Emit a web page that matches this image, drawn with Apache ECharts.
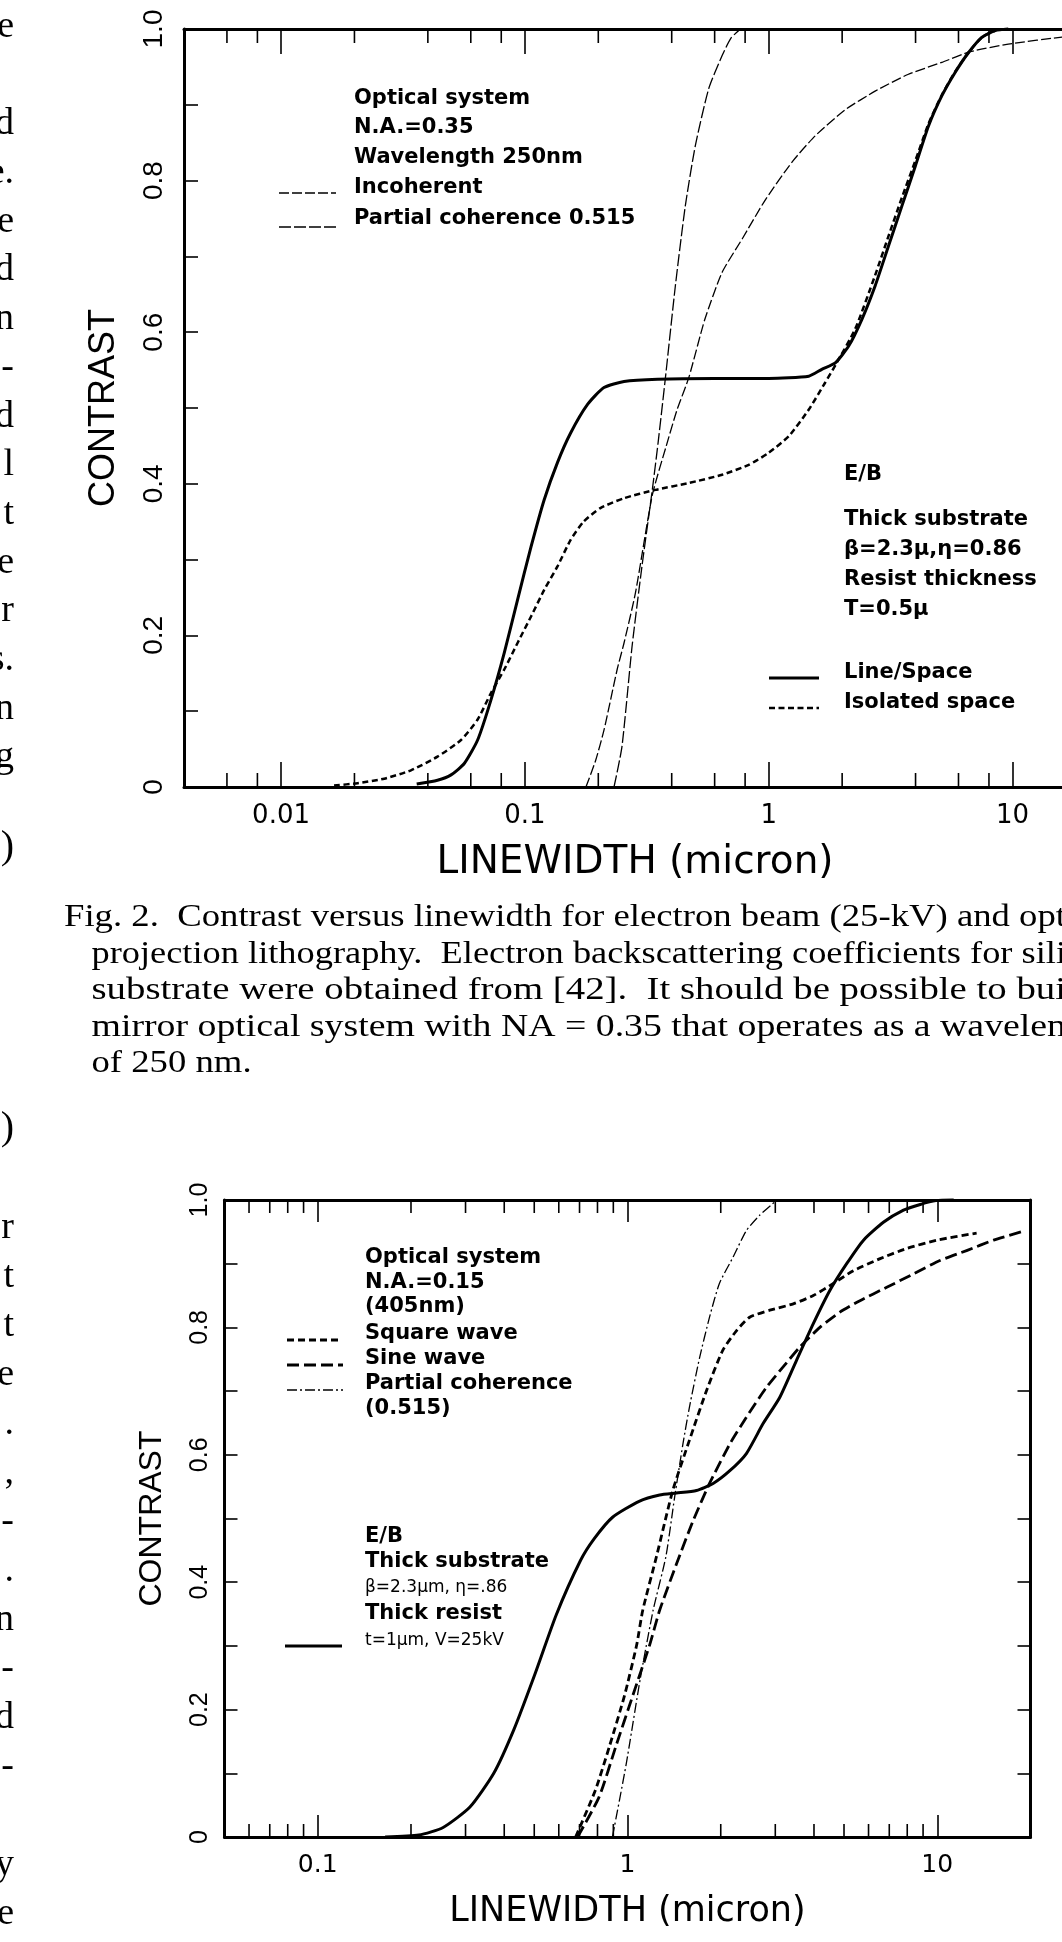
<!DOCTYPE html>
<html>
<head>
<meta charset="utf-8">
<script src="https://cdn.jsdelivr.net/npm/echarts@6.0.0/dist/echarts.min.js"></script>
<style>
html,body{margin:0;padding:0;background:#fff;overflow:hidden;width:1062px;height:1942px}
#c{width:1100px;height:1942px}
</style>
</head>
<body>
<div id="c"></div>
<script>
// ================= DATA =================
// Upper chart (Fig. 2): [linewidth micron, contrast]
const topLineSpace = [[0.036,0.004],[0.0438,0.009],[0.0498,0.016],[0.0564,0.031],[0.064,0.062],[0.0726,0.115],[0.0823,0.177],[0.0933,0.247],[0.106,0.317],[0.12,0.379],[0.136,0.428],[0.154,0.467],[0.181,0.505],[0.211,0.527],[0.255,0.535],[0.35,0.538],[0.6,0.539],[1.0,0.539],[1.46,0.542],[1.65,0.551],[1.88,0.56],[2.13,0.582],[2.41,0.617],[2.73,0.661],[3.10,0.714],[3.52,0.767],[3.99,0.819],[4.52,0.872],[5.13,0.912],[5.82,0.943],[6.60,0.969],[7.48,0.989],[8.49,0.998],[9.6,1.0]];
const topIsolated = [[0.0165,0.002],[0.0206,0.005],[0.0265,0.011],[0.0341,0.022],[0.0438,0.04],[0.0547,0.062],[0.064,0.089],[0.0726,0.124],[0.0823,0.155],[0.0933,0.19],[0.106,0.225],[0.12,0.26],[0.136,0.291],[0.154,0.326],[0.174,0.35],[0.204,0.368],[0.255,0.381],[0.343,0.392],[0.47,0.401],[0.644,0.412],[0.828,0.425],[1.0,0.441],[1.21,0.463],[1.46,0.498],[1.7,0.533],[1.88,0.557],[2.26,0.604],[2.73,0.675],[3.10,0.727],[3.52,0.778],[3.99,0.826],[4.52,0.875],[5.13,0.913],[5.82,0.944],[6.6,0.969],[7.48,0.989],[8.49,0.998]];
const topIncoherent = [[0.178,0],[0.195,0.035],[0.211,0.075],[0.239,0.155],[0.255,0.19],[0.284,0.256],[0.333,0.385],[0.38,0.45],[0.42,0.497],[0.47,0.54],[0.547,0.617],[0.644,0.679],[0.778,0.723],[0.97,0.775],[1.25,0.825],[1.55,0.859],[2.05,0.893],[2.73,0.918],[3.72,0.94],[5.13,0.956],[6.7,0.97],[9.6,0.98],[16.5,0.99],[20,0.992]];
const topPartial = [[0.232,0],[0.25,0.053],[0.275,0.185],[0.302,0.291],[0.333,0.392],[0.352,0.455],[0.377,0.54],[0.414,0.661],[0.455,0.767],[0.5,0.846],[0.567,0.921],[0.644,0.965],[0.7,0.988],[0.766,1.0]];

// Lower chart: [linewidth micron, contrast]
const botEB = [[0.165,0],[0.212,0.003],[0.254,0.015],[0.31,0.047],[0.37,0.1],[0.43,0.169],[0.501,0.254],[0.589,0.349],[0.705,0.434],[0.78,0.468],[0.895,0.502],[1.09,0.527],[1.27,0.537],[1.44,0.54],[1.67,0.544],[1.89,0.555],[2.14,0.575],[2.42,0.602],[2.74,0.649],[3.1,0.69],[3.51,0.748],[3.98,0.806],[4.5,0.858],[5.1,0.9],[5.78,0.937],[6.7,0.965],[7.78,0.984],[8.81,0.993],[9.9,0.999],[11.3,1.0]];
const botSquare = [[0.68,0],[0.787,0.073],[0.874,0.142],[0.978,0.222],[1.07,0.301],[1.12,0.356],[1.24,0.44],[1.40,0.544],[1.585,0.623],[1.8,0.701],[2.03,0.764],[2.25,0.795],[2.48,0.816],[2.88,0.827],[3.43,0.837],[3.98,0.85],[4.62,0.869],[5.36,0.889],[6.54,0.908],[7.98,0.924],[9.97,0.937],[13.4,0.948]];
const botSine = [[0.69,0],[0.81,0.063],[0.918,0.143],[1.04,0.222],[1.18,0.302],[1.27,0.356],[1.44,0.429],[1.63,0.497],[1.84,0.555],[2.14,0.617],[2.42,0.659],[2.81,0.706],[3.18,0.738],[3.6,0.769],[4.18,0.8],[4.85,0.824],[5.63,0.842],[6.87,0.863],[8.38,0.884],[10.2,0.905],[12.5,0.921],[15.2,0.937],[19.3,0.952]];
const botPartial = [[0.894,0],[0.99,0.114],[1.1,0.249],[1.21,0.356],[1.33,0.44],[1.42,0.534],[1.51,0.617],[1.585,0.675],[1.71,0.753],[1.84,0.816],[1.98,0.869],[2.19,0.91],[2.42,0.952],[2.67,0.976],[2.99,0.997]];

// Axis ticks / labels
const topXTickValues = [0.01, 0.1, 1, 10];
const topXTickLabels = ['0.01', '0.1', '1', '10'];
const botXTickValues = [0.1, 1, 10];
const botXTickLabels = ['0.1', '1', '10'];
const yTickLabels = ['0', '0.2', '0.4', '0.6', '0.8', '1.0'];
const topMinorTicks = [0.006, 0.008, 0.02, 0.04, 0.06, 0.08, 0.2, 0.4, 0.6, 0.8, 2, 4, 6, 8];
const botMinorTicks = [0.06, 0.07, 0.08, 0.09, 0.2, 0.3, 0.4, 0.5, 0.6, 0.7, 0.8, 0.9, 2, 3, 4, 5, 6, 7, 8, 9];

// Texts
const topOpticsText = ['Optical system', 'N.A.=0.35', 'Wavelength 250nm', 'Incoherent', 'Partial coherence 0.515'];
const topEBText = ['E/B', 'Thick substrate', 'β=2.3μ,η=0.86', 'Resist thickness', 'T=0.5μ', 'Line/Space', 'Isolated space'];
const botOpticsText = ['Optical system', 'N.A.=0.15', '(405nm)', 'Square wave', 'Sine wave', 'Partial coherence', '(0.515)'];
const botEBText = ['E/B', 'Thick substrate', 'β=2.3μm, η=.86', 'Thick resist', 't=1μm, V=25kV'];
const captionLines = [
  'Fig. 2.  Contrast versus linewidth for electron beam (25-kV) and opt',
  'projection lithography.  Electron backscattering coefficients for sili',
  'substrate were obtained from [42].  It should be possible to bui',
  'mirror optical system with NA = 0.35 that operates as a wavelen',
  'of 250 nm.'
];
const sideTextTop = ['e', '', 'd', 'e.', 'e', 'd', 'n', '-', 'd', 'l', 't', 'e', 'r', 's.', 'n', 'g'];
const sideTextBottom = ['r', 't', 't', 'e', '.', ',', '-', '.', 'n', '-', 'd', '-', '', 'y', 'e'];

// ================= LAYOUT =================
const G0 = {left: 184, top: 29, width: 902, height: 758};
const G1 = {left: 224.5, top: 1200, width: 806, height: 637};
const BLACK = '#000';

function logFmt(values, labels) {
  return function (v) {
    for (let i = 0; i < values.length; i++) {
      if (Math.abs(Math.log10(v) - Math.log10(values[i])) < 1e-6) return labels[i];
    }
    return '';
  };
}
function yFmt(v) {
  const k = Math.round(v * 10);
  return k % 2 ? '' : yTickLabels[k / 2];
}
function xAxisDef(grid, min, max, pos, major, withLabels, labelSize, vals, labs, name, nameSize, nameGap) {
  return {
    gridIndex: grid, type: 'log', logBase: 10, min: min, max: max, position: pos,
    axisLine: {show: true, onZero: false, lineStyle: {color: BLACK, width: 3}},
    axisTick: {show: true, inside: true, length: major, lineStyle: {color: BLACK, width: 1.6}},
    minorTick: {show: false}, splitLine: {show: false},
    axisLabel: {show: withLabels, margin: 16, color: BLACK, fontFamily: 'DejaVu Sans', fontSize: labelSize,
      showMinLabel: false, showMaxLabel: false, formatter: logFmt(vals, labs)},
    name: withLabels ? name : '', nameLocation: 'middle', nameGap: nameGap,
    nameTextStyle: {fontFamily: 'DejaVu Sans', fontSize: nameSize, color: BLACK}
  };
}
function yAxisDef(grid, pos, withLabels, labelSize, margin, tickLen, nameSize, nameGap) {
  return {
    gridIndex: grid, type: 'value', min: 0, max: 1, interval: 0.1, position: pos,
    axisLine: {show: true, onZero: false, lineStyle: {color: BLACK, width: 3}},
    axisTick: {show: true, inside: true, length: tickLen, lineStyle: {color: BLACK, width: 1.6}},
    splitLine: {show: false},
    axisLabel: {show: withLabels, rotate: 90, margin: margin, color: BLACK, fontFamily: 'Liberation Sans', fontSize: labelSize, formatter: yFmt},
    name: withLabels ? 'CONTRAST' : '', nameLocation: 'middle', nameRotate: 90, nameGap: nameGap,
    nameTextStyle: {fontFamily: 'Liberation Sans', fontSize: nameSize, color: BLACK}
  };
}
function lineSeries(data, xi, yi, width, dash) {
  return {type: 'line', xAxisIndex: xi, yAxisIndex: yi, data: data, showSymbol: false, symbol: 'none',
    smooth: 0.2, clip: false, animation: false, z: 3,
    lineStyle: {color: BLACK, width: width, type: dash, cap: 'butt', join: 'round'}};
}
function minorTicks(xi, yi, vals, len) {
  return {
    type: 'custom', xAxisIndex: xi, yAxisIndex: yi, silent: true, clip: false, animation: false, z: 5,
    data: vals.map(v => [v, 0]), encode: {x: 0, y: 1},
    renderItem: function (params, api) {
      const v = api.value(0);
      const b = api.coord([v, 0]);
      const t = api.coord([v, 1]);
      const st = {stroke: BLACK, lineWidth: 1.6};
      return {type: 'group', children: [
        {type: 'line', shape: {x1: b[0], y1: b[1], x2: b[0], y2: b[1] - len}, style: st},
        {type: 'line', shape: {x1: t[0], y1: t[1], x2: t[0], y2: t[1] + len}, style: st}
      ]};
    }
  };
}

// ================= GRAPHIC (annotations, caption, page text) =================
const graphics = [];
function addText(x, y, text, font, align, extra) {
  graphics.push(Object.assign({type: 'text', x: x, y: y, silent: true,
    style: {text: text, font: font, fill: BLACK, textAlign: align || 'left', textVerticalAlign: 'middle', verticalAlign: 'middle'}}, extra || {}));
}
function addSample(x1, x2, y, width, dash) {
  graphics.push({type: 'line', silent: true, shape: {x1: x1, y1: y, x2: x2, y2: y},
    style: {stroke: BLACK, lineWidth: width, lineDash: dash}});
}
const annoFont = 'bold 21px "DejaVu Sans"';
const smallFont = '17px "DejaVu Sans"';

// upper chart annotations
const topOptY = [99, 128, 158, 188, 219];
topOpticsText.forEach((t, i) => addText(354, topOptY[i], t, annoFont));
const topEBY = [475, 520, 550, 580, 610, 673, 703];
topEBText.forEach((t, i) => addText(844, topEBY[i], t, annoFont));
addSample(279, 336, 193, 1.3, [10, 3]);
addSample(279, 336, 227, 1.3, [12, 3]);
addSample(769, 819, 678, 3, null);
addSample(769, 819, 708, 2.5, [6, 3.5]);

// lower chart annotations
const botOptY = [1258, 1283, 1307, 1334, 1359, 1384, 1409];
botOpticsText.forEach((t, i) => addText(365, botOptY[i], t, annoFont));
const botEBY = [1537, 1562, 1588, 1614, 1641];
botEBText.forEach((t, i) => addText(365, botEBY[i], t, (i === 2 || i === 4) ? smallFont : annoFont));
addSample(287, 342, 1340, 2.8, [7, 4]);
addSample(287, 343, 1365, 2.8, [12, 5]);
addSample(287, 343, 1390, 1.3, [10, 3, 2, 3]);
addSample(285, 342, 1646, 3, null);

// caption: justified lines, each stretched to the column edge
const capFont = '31px "Liberation Serif"';
const ctx = document.createElement('canvas').getContext('2d');
ctx.font = capFont;
const capX = [64, 91.5, 91.5, 91.5, 91.5];
const capY = [918, 954.5, 991, 1027.5, 1064];
const capRight = 1066;
const baseScale = (capRight - capX[0]) / ctx.measureText(captionLines[0]).width;
captionLines.forEach((t, i) => {
  const s = i < 4 ? (capRight - capX[i]) / ctx.measureText(t).width : baseScale;
  addText(capX[i], capY[i], t, capFont, 'left', {scaleX: s});
});

// left column of page text (cut off)
const sideFont = '38px "Liberation Serif"';
sideTextTop.forEach((t, i) => { if (t) addText(14, 27 + i * 48.7, t, sideFont, 'right'); });
addText(14, 847, ')', '40px "Liberation Serif"', 'right');
addText(14, 1128, ')', '40px "Liberation Serif"', 'right');
sideTextBottom.forEach((t, i) => { if (t) addText(14, 1228 + i * 49, t, sideFont, 'right'); });

// ================= CHART =================
const chart = echarts.init(document.getElementById('c'), null, {renderer: 'canvas'});
chart.setOption({
  backgroundColor: '#fff',
  animation: false,
  grid: [
    Object.assign({outerBoundsMode: 'none', containLabel: false}, G0),
    Object.assign({outerBoundsMode: 'none', containLabel: false}, G1)
  ],
  xAxis: [
    xAxisDef(0, 0.004, 20, 'bottom', 25, true, 26, topXTickValues, topXTickLabels, 'LINEWIDTH (micron)', 39, 56),
    xAxisDef(0, 0.004, 20, 'top', 25, false, 26, topXTickValues, topXTickLabels, '', 39, 56),
    xAxisDef(1, 0.05, 20, 'bottom', 22, true, 25, botXTickValues, botXTickLabels, 'LINEWIDTH (micron)', 35, 57),
    xAxisDef(1, 0.05, 20, 'top', 22, false, 25, botXTickValues, botXTickLabels, '', 35, 57)
  ],
  yAxis: [
    yAxisDef(0, 'left', true, 28, 16, 14, 36, 62),
    yAxisDef(1, 'left', true, 25, 12, 13, 32, 56),
    yAxisDef(1, 'right', false, 25, 12, 13, 32, 56)
  ],
  series: [
    lineSeries(topIncoherent, 0, 0, 1.3, [10, 3]),
    lineSeries(topPartial, 0, 0, 1.3, [12, 3]),
    lineSeries(topIsolated, 0, 0, 2.5, [6, 3.5]),
    lineSeries(topLineSpace, 0, 0, 3, 'solid'),
    minorTicks(0, 0, topMinorTicks, 14),
    lineSeries(botPartial, 2, 1, 1.3, [10, 3, 2, 3]),
    lineSeries(botSine, 2, 1, 2.8, [12, 5]),
    lineSeries(botSquare, 2, 1, 2.8, [7, 4]),
    lineSeries(botEB, 2, 1, 3, 'solid'),
    minorTicks(2, 1, botMinorTicks, 13)
  ],
  graphic: graphics
});
</script>
</body>
</html>
